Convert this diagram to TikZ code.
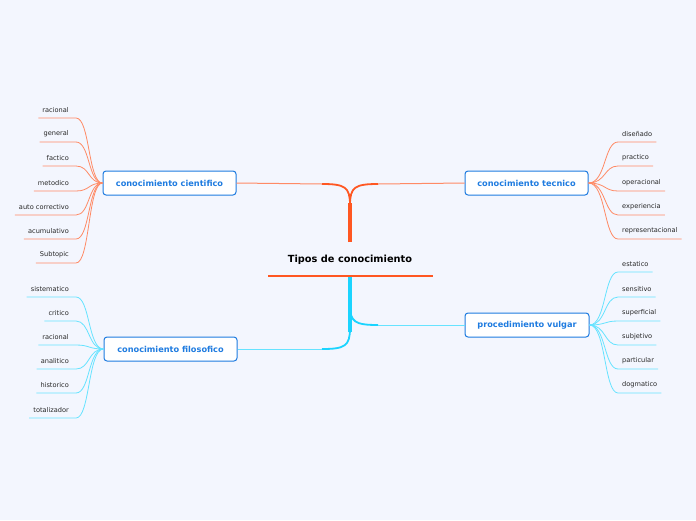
\documentclass[tikz,border=0pt]{standalone}
\usepackage{fontspec}
\setmainfont{DejaVu Sans}
\definecolor{bg}{HTML}{F3F6FE}
\definecolor{org}{HTML}{FF8A65}
\definecolor{orgT}{HTML}{FF5722}
\definecolor{cy}{HTML}{66E3FF}
\definecolor{cyT}{HTML}{1AD4FF}
\definecolor{bx}{HTML}{1E7BE0}
\begin{document}
\begin{tikzpicture}[x=1pt,y=-1pt,
  topic/.style={draw=bx,line width=1pt,rounded corners=3pt,fill=white,text=bx,font=\bfseries\fontsize{8.2}{9}\selectfont,minimum height=24pt,inner xsep=4pt},
  leaf/.style={font=\fontsize{6.6}{7}\selectfont,text=black!85,inner sep=0pt},
  ol/.style={draw=org,line width=0.8pt},
  cl/.style={draw=cy,line width=0.8pt}]
\fill[bg] (0,0) rectangle (696,520);
\useasboundingbox (0,0) rectangle (696,520);
% center
\node[font=\bfseries\fontsize{9.8}{11}\selectfont] (title) at (350,260) {Tipos de conocimiento};
\draw[orgT,line width=2pt] (268,276) -- (433,276);
\node[topic,minimum width=133pt] (ci) at (169.5,183) {conocimiento cientifico};
\node[topic,minimum width=123pt] (te) at (526.5,183) {conocimiento tecnico};
\node[topic,minimum width=133pt] (fi) at (170.5,349) {conocimiento filosofico};
\node[topic,minimum width=124pt] (vu) at (527,325) {procedimiento vulgar};
\coordinate (ot) at (350,242);
\coordinate (ct) at (350,277);
\draw[orgT,line width=3.2pt] (ot) -- (350,203);
\draw[orgT,line width=1.8pt] (350,205) .. controls (350,187) and (345,184) .. (322,184);
\draw[orgT,line width=1.8pt] (350,205) .. controls (350,187) and (355,184) .. (378,184);
\draw[ol,line width=1pt] (322,184) -- (ci.east);
\draw[ol,line width=1pt] (378,184) -- (te.west);
\draw[cyT,line width=3.2pt] (ct) -- (350,332);
\draw[cyT,line width=1.8pt] (350,328) .. controls (350,346) and (345,349) .. (322,349);
\draw[cyT,line width=1.8pt] (350,305) .. controls (350,322) and (355,325) .. (378,325);
\draw[cl,line width=1pt] (322,349) -- (fi.east);
\draw[cl,line width=1pt] (378,325) -- (vu.west);
% left leaves
\foreach \t/\y [count=\i] in {racional/110,general/134,factico/158,metodico/183,auto correctivo/207,acumulativo/231,Subtopic/255}{
  \node[leaf,anchor=east] (cl\i) at (69,\y) {\t};
  \pgfmathsetmacro\yy{\y+8}
  \draw[ol] (ci.west) .. controls (88,183) and (90,\yy) .. (76,\yy) -- ([xshift=-4pt]cl\i.west |- 0,\yy);
}
\foreach \t/\y [count=\i] in {sistematico/289,critico/313,racional/337,analitico/361,historico/385,totalizador/410}{
  \node[leaf,anchor=east] (fl\i) at (69,\y) {\t};
  \pgfmathsetmacro\yy{\y+8}
  \draw[cl] (fi.west) .. controls (88,349) and (90,\yy) .. (76,\yy) -- ([xshift=-4pt]fl\i.west |- 0,\yy);
}
\foreach \t/\y [count=\i] in {diseñado/134,practico/158,operacional/183,experiencia/207,representacional/231}{
  \node[leaf,anchor=west] (tl\i) at (622,\y) {\t};
  \pgfmathsetmacro\yy{\y+8}
  \draw[ol] (te.east) .. controls (606,183) and (604,\yy) .. (618,\yy) -- ([xshift=4pt]tl\i.east |- 0,\yy);
}
\foreach \t/\y [count=\i] in {estatico/264,sensitivo/289,superficial/313,subjetivo/337,particular/361,dogmatico/385}{
  \node[leaf,anchor=west] (vl\i) at (622,\y) {\t};
  \pgfmathsetmacro\yy{\y+8}
  \draw[cl] (vu.east) .. controls (606,325) and (604,\yy) .. (618,\yy) -- ([xshift=4pt]vl\i.east |- 0,\yy);
}
\end{tikzpicture}
\end{document}
